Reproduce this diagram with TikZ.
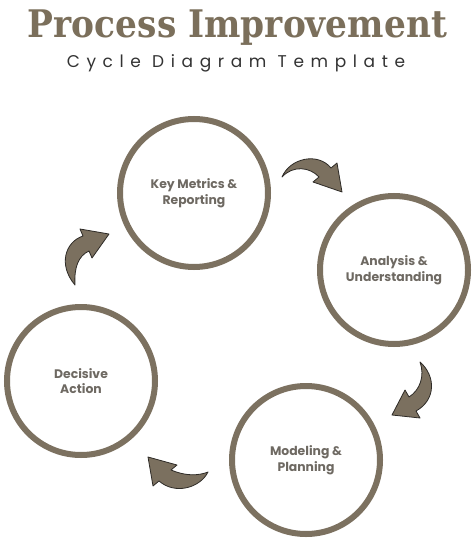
\documentclass[tikz,border=0pt]{standalone}
\usepackage{fontspec}
\usepackage{graphicx}
\setmainfont{Poppins}
\newfontfamily\titlefont{DejaVu Serif}
\newfontfamily\subfont{Poppins}[LetterSpace=39]
\definecolor{ringc}{HTML}{7C7160}
\definecolor{titlec}{HTML}{7B6F5B}
\definecolor{labelc}{HTML}{6E6962}
\definecolor{arrowc}{HTML}{7B705F}
\definecolor{arrowline}{HTML}{2E2B27}
\begin{document}
\begin{tikzpicture}[x=1pt,y=-1pt,
  ring/.style={circle,draw=ringc,line width=6pt,minimum size=148pt,inner sep=0pt,
    align=center,text=labelc,font=\fontsize{12.4}{15.5}\selectfont\bfseries},
  bentarrow/.style={fill=arrowc,draw=arrowline,line width=0.8pt,line join=round}]
\useasboundingbox (0,0) rectangle (474,540);
\fill[white] (0,0) rectangle (474,540);
\node[anchor=base,text=titlec,inner sep=0pt] (title) at (237.5,38)
  {\resizebox{419pt}{\height}{\titlefont\bfseries\fontsize{38}{40}\selectfont Process Improvement}};
\node[anchor=base,text=black!80,inner sep=0pt] (subtitle) at (236,67.5)
  {\subfont\fontsize{17}{19}\selectfont Cycle Diagram Template};
\node[ring] (km) at (194,193) {Key Metrics \&\\Reporting};
\node[ring] (an) at (394,270) {Analysis \&\\Understanding};
\node[ring] (mp) at (306,460) {Modeling \&\\Planning};
\node[ring] (da) at (81,381) {Decisive\\Action};
% arrow km -> an
\draw[bentarrow] (282,177) .. controls (290,158) and (318,152) .. (331,168) -- (337,163) -- (342,192) -- (313,182) -- (319,177) .. controls (310,167) and (293,165) .. cycle;
% arrow an -> mp
\draw[bentarrow] (420,362) .. controls (436,376) and (436,400) .. (416,411) -- (420,418) -- (392,415) -- (405,390) -- (409,397) .. controls (420,390) and (425,376) .. cycle;
% arrow mp -> da
\draw[bentarrow] (208,472) .. controls (200,488) and (175,495) .. (159,481) -- (153,486) -- (148,457) -- (177,465) -- (171,470) .. controls (185,476) and (198,476) .. cycle;
% arrow da -> km
\draw[bentarrow] (75,285) .. controls (58,265) and (65,242) .. (83,236) -- (80,229) -- (109,234) -- (92,258) -- (89,251) .. controls (78,256) and (74,268) .. cycle;
\end{tikzpicture}
\end{document}
